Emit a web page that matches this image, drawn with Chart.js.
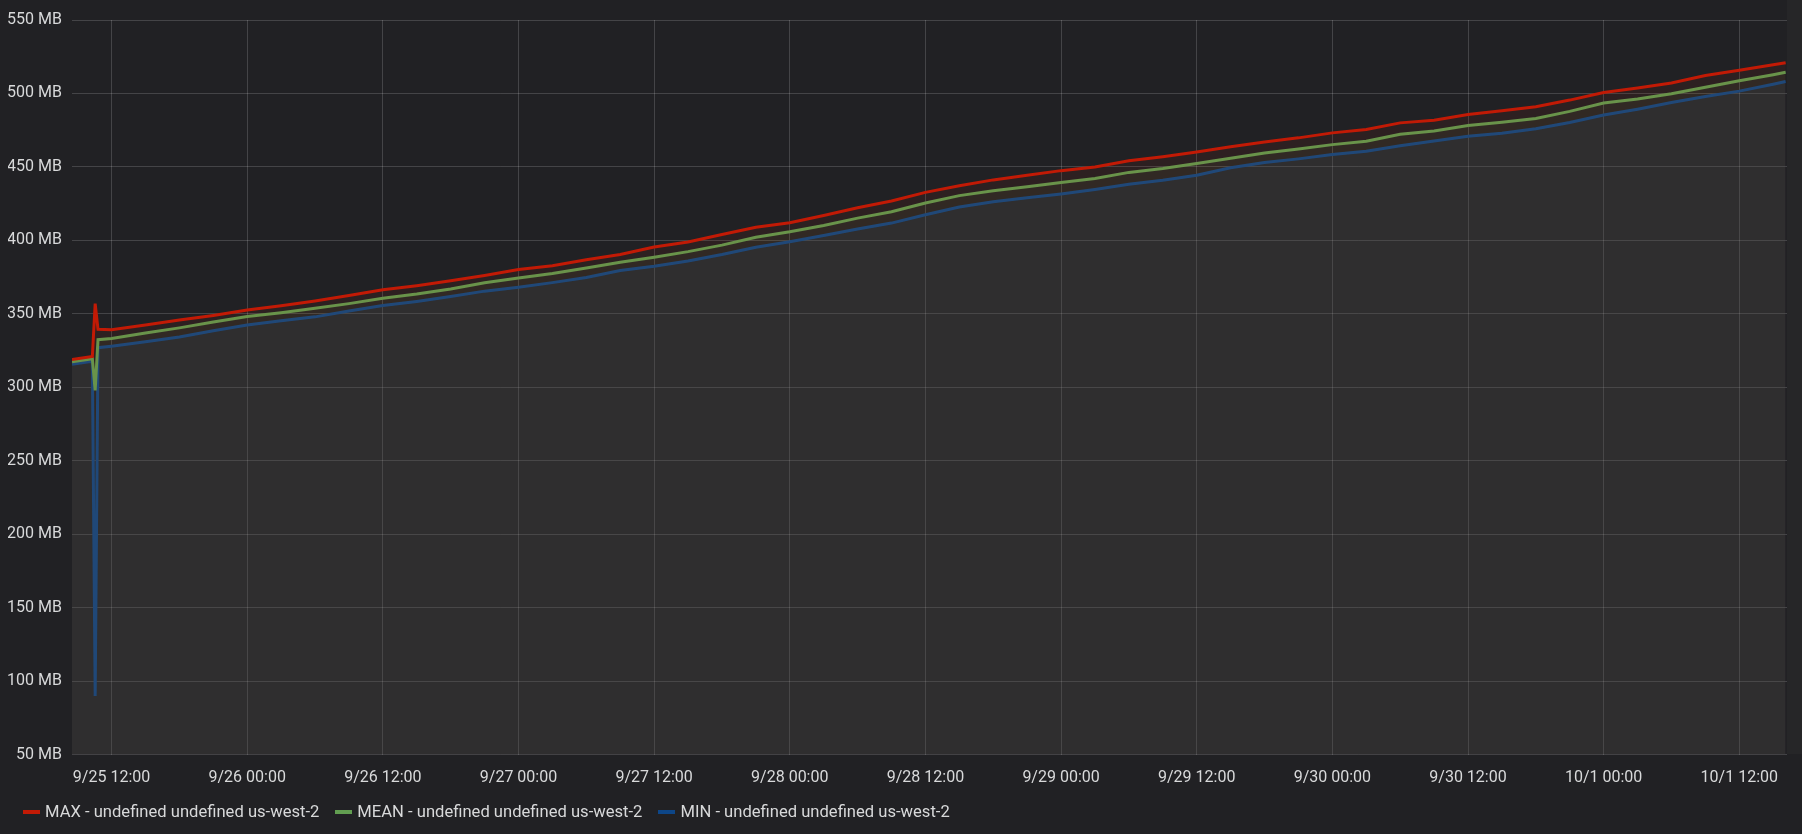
<!DOCTYPE html>
<html>
<head>
<meta charset="utf-8">
<script src="https://cdn.jsdelivr.net/npm/chart.js@4.4.0/dist/chart.umd.min.js"></script>
<style>
  html, body { margin: 0; padding: 0; background: #212124; overflow: hidden; }
  #wrap { position: relative; width: 1802px; height: 834px; }
  #strip { position: absolute; left: 1787px; top: 0; width: 15px; height: 754px; background: #262628; }
  canvas { position: absolute; left: 0; top: 0; }
  #legend { position: absolute; left: 23px; top: 802px; display: flex; align-items: center;
            font-family: Roboto, "Noto Sans", sans-serif; font-size: 16.6px; line-height: 20px; color: #d8d9da; white-space: nowrap; }
  .item { display: flex; align-items: center; margin-right: 16px; }
  .sw { width: 17px; height: 4px; margin-right: 5px; }
</style>
</head>
<body>
<div id="wrap">
  <div id="strip"></div>
  <canvas id="c" width="1802" height="834"></canvas>
  <div id="legend"></div>
</div>
<script>
// Hours since 9/25 00:00
const hours = [8.5, 10.3, 10.55, 10.8, 12, 15, 18, 21, 24, 27, 30, 33, 36, 39, 42, 45, 48, 51, 54, 57, 60, 63, 66, 69, 72, 75, 78, 81, 84, 87, 90, 93, 96, 99, 102, 105, 108, 111, 114, 117, 120, 123, 126, 129, 132, 135, 138, 141, 144, 147, 150, 153, 156, 159, 160.1];

const maxValues = [319.0, 321.0, 357.0, 339.5, 339.3, 342.5, 345.8, 349.0, 352.7, 355.5, 358.8, 362.5, 366.4, 369.2, 372.5, 376.2, 380.2, 382.8, 386.8, 390.5, 395.5, 399.0, 404.0, 409.0, 412.0, 417.0, 422.2, 426.8, 432.7, 437.2, 441.2, 444.4, 447.5, 450.0, 454.2, 457.0, 460.2, 463.8, 467.0, 469.8, 473.2, 475.5, 480.0, 481.8, 485.7, 488.2, 491.0, 495.5, 500.7, 503.8, 507.2, 512.2, 515.8, 519.5, 520.9];

const meanValues = [317.5, 319.5, 298.0, 332.5, 333.3, 337.0, 340.5, 344.5, 348.2, 350.8, 353.8, 357.0, 360.7, 363.5, 367.0, 371.2, 374.5, 377.5, 381.2, 385.2, 388.6, 392.4, 396.8, 402.2, 405.9, 410.2, 415.2, 419.5, 425.5, 430.5, 433.8, 436.5, 439.5, 442.2, 446.3, 449.0, 452.3, 455.9, 459.5, 462.2, 465.2, 467.5, 472.2, 474.4, 478.2, 480.4, 483.0, 487.8, 493.5, 496.3, 499.8, 504.2, 508.6, 512.8, 514.4];

const minValues = [315.8, 317.8, 90.0, 327.0, 328.0, 331.0, 334.3, 338.5, 342.5, 345.3, 348.0, 352.0, 355.7, 358.5, 361.8, 365.5, 368.2, 371.3, 374.8, 379.6, 382.5, 386.0, 390.4, 395.4, 399.1, 403.3, 407.8, 411.8, 417.5, 422.8, 426.3, 429.0, 431.6, 434.7, 438.3, 441.0, 444.3, 449.5, 453.0, 455.5, 458.4, 460.7, 464.5, 467.6, 470.9, 473.0, 476.0, 480.3, 485.3, 489.3, 493.8, 498.0, 501.6, 506.3, 508.1];

const seriesNames = ['MAX - undefined undefined us-west-2', 'MEAN - undefined undefined us-west-2', 'MIN - undefined undefined us-west-2'];

const xTickHours = [12, 24, 36, 48, 60, 72, 84, 96, 108, 120, 132, 144, 156];
const xTickLabels = ['9/25 12:00', '9/26 00:00', '9/26 12:00', '9/27 00:00', '9/27 12:00', '9/28 00:00', '9/28 12:00', '9/29 00:00', '9/29 12:00', '9/30 00:00', '9/30 12:00', '10/1 00:00', '10/1 12:00'];

const yTicks = [50, 100, 150, 200, 250, 300, 350, 400, 450, 500, 550];

const lineColors = ['#c21a05', '#629e51', '#0d4688'];
const fillColors = ['rgba(194,26,5,0.08)', 'rgba(98,158,81,0.085)', 'rgba(13,70,136,0.13)'];

const seriesValues = [maxValues, meanValues, minValues];

Chart.defaults.font.family = 'Roboto, "Noto Sans", sans-serif';
Chart.defaults.font.size = 16;
Chart.defaults.color = '#d8d9da';

const datasets = seriesValues.map((vals, i) => ({
  label: seriesNames[i],
  data: hours.map((h, j) => ({ x: h, y: vals[j] })),
  borderColor: lineColors[i],
  backgroundColor: fillColors[i],
  borderWidth: 3,
  pointRadius: 0,
  pointHoverRadius: 0,
  tension: 0,
  fill: 'start'
}));

// HTML legend built from the series names and colours
const legendEl = document.getElementById('legend');
seriesNames.forEach((name, i) => {
  const item = document.createElement('div');
  item.className = 'item';
  const sw = document.createElement('span');
  sw.className = 'sw';
  sw.style.background = lineColors[i];
  const tx = document.createElement('span');
  tx.textContent = name;
  item.appendChild(sw);
  item.appendChild(tx);
  legendEl.appendChild(item);
});

new Chart(document.getElementById('c'), {
  type: 'line',
  data: { datasets },
  options: {
    responsive: false,
    animation: false,
    devicePixelRatio: 1,
    layout: { padding: { top: 20, left: 8, right: 15, bottom: 46 } },
    plugins: {
      tooltip: { enabled: false },
      legend: { display: false }
    },
    scales: {
      x: {
        type: 'linear',
        min: 8.5,
        max: 160.22,
        border: { display: false },
        grid: { color: 'rgba(255,255,255,0.16)', drawTicks: true, tickLength: 14, tickColor: 'rgba(0,0,0,0)', lineWidth: 1 },
        afterBuildTicks: (scale) => { scale.ticks = xTickHours.map(v => ({ value: v })); },
        ticks: {
          autoSkip: false,
          maxRotation: 0,
          padding: 0,
          color: '#d8d9da',
          callback: (v) => { const i = xTickHours.indexOf(v); return i >= 0 ? xTickLabels[i] : ''; }
        }
      },
      y: {
        type: 'linear',
        min: 50,
        max: 550,
        border: { display: false },
        grid: { color: 'rgba(255,255,255,0.16)', drawTicks: false, lineWidth: 1 },
        afterBuildTicks: (scale) => { scale.ticks = yTicks.map(v => ({ value: v })); },
        afterFit: (scale) => { scale.width = 64; },
        ticks: {
          padding: 10,
          color: '#d8d9da',
          callback: (v) => v + ' MB'
        }
      }
    }
  }
});
</script>
</body>
</html>
